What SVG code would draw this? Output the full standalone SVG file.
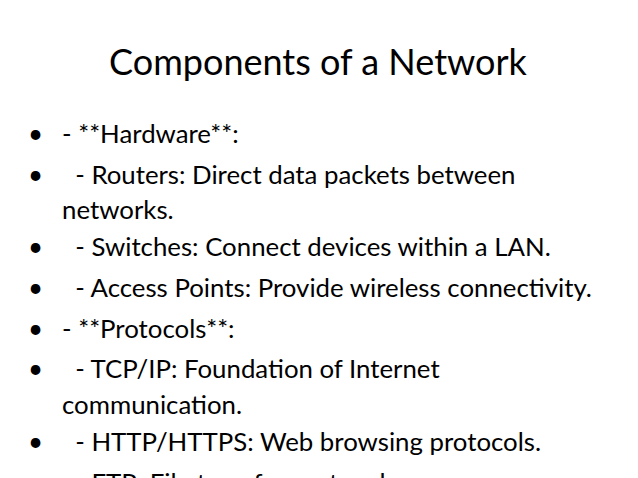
<svg xmlns="http://www.w3.org/2000/svg" width="638" height="478" viewBox="0 0 638 478">
<style>
text{font-family:Lato,"Open Sans",sans-serif;fill:#000}
.t{font-size:36px}
.b{font-size:25.8px}
.d{font-size:26px}
</style>
<rect width="638" height="478" fill="#fff"/>
<text class="t" x="318" y="75" text-anchor="middle">Components of a Network</text>
<g id="bullets">
<text class="d" x="28" y="143">•</text><text class="b" x="62" y="143">- **Hardware**:</text>
<text class="d" x="28" y="184">•</text><text class="b" x="62" y="184" xml:space="preserve">  - Routers: Direct data packets between</text>
<text class="b" x="62" y="219">networks.</text>
<text class="d" x="28" y="256">•</text><text class="b" x="62" y="256" xml:space="preserve">  - Switches: Connect devices within a LAN.</text>
<text class="d" x="28" y="297">•</text><text class="b" x="62" y="297" xml:space="preserve">  - Access Points: Provide wireless connectivity.</text>
<text class="d" x="28" y="338">•</text><text class="b" x="62" y="338">- **Protocols**:</text>
<text class="d" x="28" y="378">•</text><text class="b" x="62" y="378" xml:space="preserve">  - TCP/IP: Foundation of Internet</text>
<text class="b" x="62" y="414">communication.</text>
<text class="d" x="28" y="451">•</text><text class="b" x="62" y="451" xml:space="preserve">  - HTTP/HTTPS: Web browsing protocols.</text>
<text class="d" x="28" y="492">•</text><text class="b" x="62" y="492" xml:space="preserve">  - FTP: File transfer protocol.</text>
</g>
</svg>
